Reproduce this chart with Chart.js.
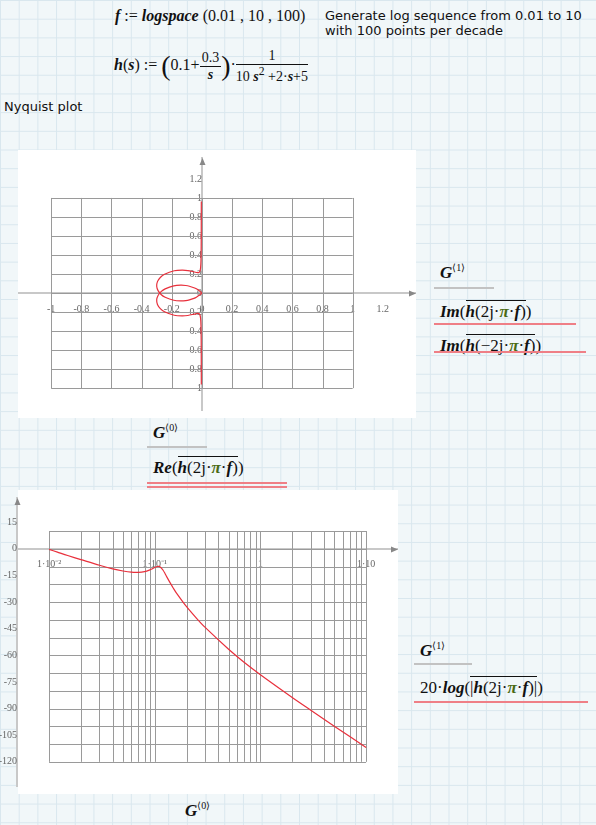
<!DOCTYPE html>
<html>
<head>
<meta charset="utf-8">
<script src="https://cdn.jsdelivr.net/npm/chart.js@4"></script>
<style>
  body {
    margin: 0; width: 596px; height: 825px; position: relative; overflow: hidden;
    background-color: #f1f7f9;
    background-image:
      linear-gradient(to right, #d9e7ee 1px, transparent 1px),
      linear-gradient(to bottom, #d9e7ee 1px, transparent 1px);
    background-size: 18.7px 18.7px;
    font-family: "DejaVu Sans", sans-serif;
  }
  .abs { position: absolute; white-space: nowrap; }
  .m { font-family: "Liberation Serif", serif; font-size: 17px; color: #111; }
  .m i { font-style: italic; font-weight: bold; }
  .pi { color: #4b6b14; font-weight: bold; font-style: italic; }
  .note { font-size: 13px; color: #111; line-height: 15px; }
  .gray { position: absolute; height: 2px; background: #c2c2c2; }
  .red { position: absolute; height: 2px; background: #ef7f86; }
  .frac { display: inline-block; vertical-align: middle; text-align: center; }
  .frac span { display: block; }
  .frac .num { border-bottom: 1px solid #111; padding: 0 2px; }
  .ov { border-top: 1px solid #111; padding-top: 1px; }
  canvas { position: absolute; }
</style>
</head>
<body>
<div class="abs m" style="left:115px;top:7px;font-size:16px;"><i>f</i> := <i>logspace</i> (0.01 , 10 , 100)</div>
<div class="abs note" style="left:325px;top:8px;">Generate log sequence from 0.01 to 10<br>with 100 points per decade</div>
<div class="abs m" style="left:114px;top:48px;font-size:16px;"><i>h</i>(<i>s</i>) := <span style="font-size:28px;vertical-align:middle;">(</span>0.1+<span class="frac" style="font-size:14px;"><span class="num">0.3</span><span><i>s</i></span></span><span style="font-size:28px;vertical-align:middle;">)</span>·<span class="frac" style="font-size:14px;"><span class="num">&nbsp;&nbsp;&nbsp;&nbsp;&nbsp;&nbsp;&nbsp;&nbsp;1&nbsp;&nbsp;&nbsp;&nbsp;&nbsp;&nbsp;&nbsp;&nbsp;</span><span>10 <i>s</i><sup>2</sup> +2·<i>s</i>+5</span></span></div>
<div class="abs note" style="left:4px;top:99px;">Nyquist plot</div>

<div class="abs" style="left:18px;top:150px;width:398px;height:268px;background:#fff;"></div>
<canvas id="nyq" width="398" height="268" style="left:18px;top:150px;"></canvas>

<div class="abs m" style="left:440px;top:262px;"><i>G</i><sup style="font-size:10px">⟨1⟩</sup></div>
<div class="gray" style="left:434px;top:287px;width:60px;"></div>
<div class="abs m" style="left:440px;top:302px;"><i>Im</i>(<span class="ov"><i>h</i>(2j·<span class="pi">π</span>·<i>f</i>)</span>)</div>
<div class="red" style="left:434px;top:323px;width:142px;"></div>
<div class="abs m" style="left:440px;top:336px;"><i>Im</i>(<span class="ov"><i>h</i>(−2j·<span class="pi">π</span>·<i>f</i>)</span>)</div>
<div class="red" style="left:434px;top:351px;width:152px;"></div>

<div class="abs m" style="left:153px;top:422px;"><i>G</i><sup style="font-size:10px">⟨0⟩</sup></div>
<div class="gray" style="left:147px;top:446px;width:60px;"></div>
<div class="abs m" style="left:153px;top:458px;"><i>Re</i>(<span class="ov"><i>h</i>(2j·<span class="pi">π</span>·<i>f</i>)</span>)</div>
<div class="red" style="left:147px;top:482px;width:140px;"></div>
<div class="red" style="left:147px;top:486px;width:140px;"></div>

<div class="abs" style="left:18px;top:490px;width:380px;height:304px;background:#fff;"></div>
<canvas id="bode" width="398" height="304" style="left:0px;top:490px;"></canvas>

<div class="abs m" style="left:420px;top:640px;"><i>G</i><sup style="font-size:10px">⟨1⟩</sup></div>
<div class="gray" style="left:414px;top:663px;width:58px;"></div>
<div class="abs m" style="left:420px;top:678px;">20·<i>log</i>(<span class="ov">|<i>h</i>(2j·<span class="pi">π</span>·<i>f</i>)|</span>)</div>
<div class="red" style="left:414px;top:701px;width:174px;"></div>
<div class="abs m" style="left:185px;top:800px;"><i>G</i><sup style="font-size:10px">⟨0⟩</sup></div>

<script>
// Nyquist: Re / Im of h(2j*pi*f)
const reNy = [-0.004, -0.0043, -0.0045, -0.0049, -0.0063, -0.0085, -0.012, -0.018, -0.029, -0.0495, -0.093, -0.131, -0.184, -0.248, -0.276, -0.295, -0.300, -0.291, -0.271, -0.244, -0.187, -0.140, -0.107, -0.083, -0.053, -0.037, -0.0137, -0.0039, -0.0011, 0];
const imNy = [-0.962, -0.805, -0.648, -0.493, -0.342, -0.272, -0.236, -0.2185, -0.214, -0.221, -0.236, -0.241, -0.234, -0.1975, -0.1635, -0.120, -0.071, -0.025, 0.015, 0.044, 0.0755, 0.0825, 0.079, 0.0715, 0.056, 0.044, 0.019, 0.0047, 0.0009, 0];
const imNyNeg = [0.962, 0.805, 0.648, 0.493, 0.342, 0.272, 0.236, 0.2185, 0.214, 0.221, 0.236, 0.241, 0.234, 0.1975, 0.1635, 0.120, 0.071, 0.025, -0.015, -0.044, -0.0755, -0.0825, -0.079, -0.0715, -0.056, -0.044, -0.019, -0.0047, -0.0009, 0];
const nyTicks = [-1, -0.8, -0.6, -0.4, -0.2, 0, 0.2, 0.4, 0.6, 0.8, 1, 1.2];

// Bode magnitude
const fBode = [0.01, 0.012, 0.015, 0.02, 0.03, 0.04, 0.05, 0.06, 0.07, 0.08, 0.09, 0.095, 0.1, 0.105, 0.1075, 0.11, 0.1125, 0.115, 0.12, 0.125, 0.13, 0.14, 0.15, 0.16, 0.2, 0.25, 0.3, 0.5, 0.7, 1, 2, 3, 5, 10];
const magBode = [-0.34, -1.9, -3.8, -6.1, -9.3, -11.3, -12.5, -13.2, -13.3, -12.9, -11.9, -11.2, -10.5, -10.0, -9.9, -9.9, -10.2, -10.7, -12.1, -13.9, -15.8, -19.2, -22.2, -24.8, -32.6, -39.3, -44.3, -56.6, -63.9, -70.9, -83.7, -90.9, -99.9, -111.9];
const bodeYTicks = [15, 0, -15, -30, -45, -60, -75, -90, -105, -120];
const bodeXLabels = {0.01: '1·10⁻²', 0.1: '1·10⁻¹', 1: '1', 10: '1·10'};

const tickFont = {family: 'Liberation Serif', size: 10};

function gridBox(xs, ys) {
  return {
    id: 'gridBox',
    beforeDatasetsDraw(chart) {
      const {ctx, scales: {x, y}} = chart;
      ctx.save();
      ctx.strokeStyle = '#9a9a9a';
      ctx.lineWidth = 1;
      const x0 = x.getPixelForValue(xs[0]), x1 = x.getPixelForValue(xs[xs.length - 1]);
      const y0 = y.getPixelForValue(ys[0]), y1 = y.getPixelForValue(ys[ys.length - 1]);
      ctx.beginPath();
      xs.forEach(v => { const p = Math.round(x.getPixelForValue(v)) + 0.5; ctx.moveTo(p, y0); ctx.lineTo(p, y1); });
      ys.forEach(v => { const p = Math.round(y.getPixelForValue(v)) + 0.5; ctx.moveTo(x0, p); ctx.lineTo(x1, p); });
      ctx.stroke();
      ctx.restore();
    }
  };
}

const arrows = {
  id: 'arrows',
  afterDraw(chart) {
    const {ctx, chartArea: a, scales: {y}} = chart;
    const yx = Math.round(y.getPixelForValue(0)) + 0.5;
    ctx.save();
    ctx.fillStyle = '#888';
    ctx.beginPath();
    ctx.moveTo(a.right, yx); ctx.lineTo(a.right - 7, yx - 3); ctx.lineTo(a.right - 7, yx + 3); ctx.fill();
    ctx.restore();
  }
};

function upArrow(xv) {
  return {
    id: 'upArrow',
    afterDraw(chart) {
      const {ctx, chartArea: a, scales: {x}} = chart;
      const px = Math.round(x.getPixelForValue(xv)) + 0.5;
      ctx.save();
      ctx.fillStyle = '#888';
      ctx.beginPath();
      ctx.moveTo(px, a.top); ctx.lineTo(px - 3, a.top + 7); ctx.lineTo(px + 3, a.top + 7); ctx.fill();
      ctx.restore();
    }
  };
}

new Chart(document.getElementById('nyq'), {
  type: 'scatter',
  data: {
    datasets: [
      {data: reNy.map((r, i) => ({x: r, y: imNy[i]})), showLine: true, borderColor: '#e8303c', borderWidth: 1.2, pointRadius: 0, tension: 0.3},
      {data: reNy.map((r, i) => ({x: r, y: imNyNeg[i]})), showLine: true, borderColor: '#e8303c', borderWidth: 1.2, pointRadius: 0, tension: 0.3}
    ]
  },
  options: {
    responsive: false, animation: false, devicePixelRatio: 1,
    layout: {padding: 0},
    plugins: {legend: {display: false}, tooltip: {enabled: false}},
    scales: {
      x: {
        type: 'linear', min: -1.22, max: 1.42, position: {y: 0},
        afterBuildTicks: s => { s.ticks = nyTicks.map(v => ({value: v})); },
        grid: {display: false}, border: {color: '#c8c8c8', width: 2},
        ticks: {font: tickFont, color: '#666', padding: 2, maxRotation: 0, autoSkip: false, callback: v => String(Math.round(v * 10) / 10)}
      },
      y: {
        type: 'linear', min: -1.23, max: 1.42, position: {x: 0},
        afterBuildTicks: s => { s.ticks = nyTicks.map(v => ({value: v})); },
        grid: {display: false}, border: {color: '#c8c8c8', width: 2},
        ticks: {font: tickFont, color: '#666', padding: 2, autoSkip: false, callback: v => String(Math.round(v * 10) / 10)}
      }
    }
  },
  plugins: [gridBox([-1, -0.8, -0.6, -0.4, -0.2, 0, 0.2, 0.4, 0.6, 0.8, 1], [-1, -0.8, -0.6, -0.4, -0.2, 0, 0.2, 0.4, 0.6, 0.8, 1]), arrows, upArrow(0)]
});

const decadeLines = [];
[0.01, 0.1, 1].forEach(d => { for (let k = 1; k <= 9; k++) decadeLines.push(d * k); });
decadeLines.push(10);

new Chart(document.getElementById('bode'), {
  type: 'scatter',
  data: {
    datasets: [
      {data: fBode.map((f, i) => ({x: f, y: magBode[i]})), showLine: true, borderColor: '#e8303c', borderWidth: 1.2, pointRadius: 0, tension: 0.3}
    ]
  },
  options: {
    responsive: false, animation: false, devicePixelRatio: 1,
    layout: {padding: {left: 17}},
    plugins: {legend: {display: false}, tooltip: {enabled: false}},
    scales: {
      x: {
        type: 'logarithmic', min: 0.00497, max: 20.05, position: {y: 0},
        afterBuildTicks: s => { s.ticks = [0.01, 0.1, 1, 10].map(v => ({value: v})); },
        grid: {display: false}, border: {color: '#c8c8c8', width: 2},
        ticks: {font: tickFont, color: '#666', padding: 2, maxRotation: 0, autoSkip: false, callback: v => bodeXLabels[v]}
      },
      y: {
        type: 'linear', min: -133.6, max: 28.6, position: {x: 0.00497},
        afterBuildTicks: s => { s.ticks = bodeYTicks.map(v => ({value: v})); },
        grid: {display: false}, border: {color: '#c8c8c8', width: 2},
        ticks: {font: tickFont, color: '#666', padding: 2, autoSkip: false}
      }
    }
  },
  plugins: [gridBox(decadeLines, [10, 0, -10, -20, -30, -40, -50, -60, -70, -80, -90, -100, -110, -120]), arrows, upArrow(0.00497)]
});
</script>
</body>
</html>
